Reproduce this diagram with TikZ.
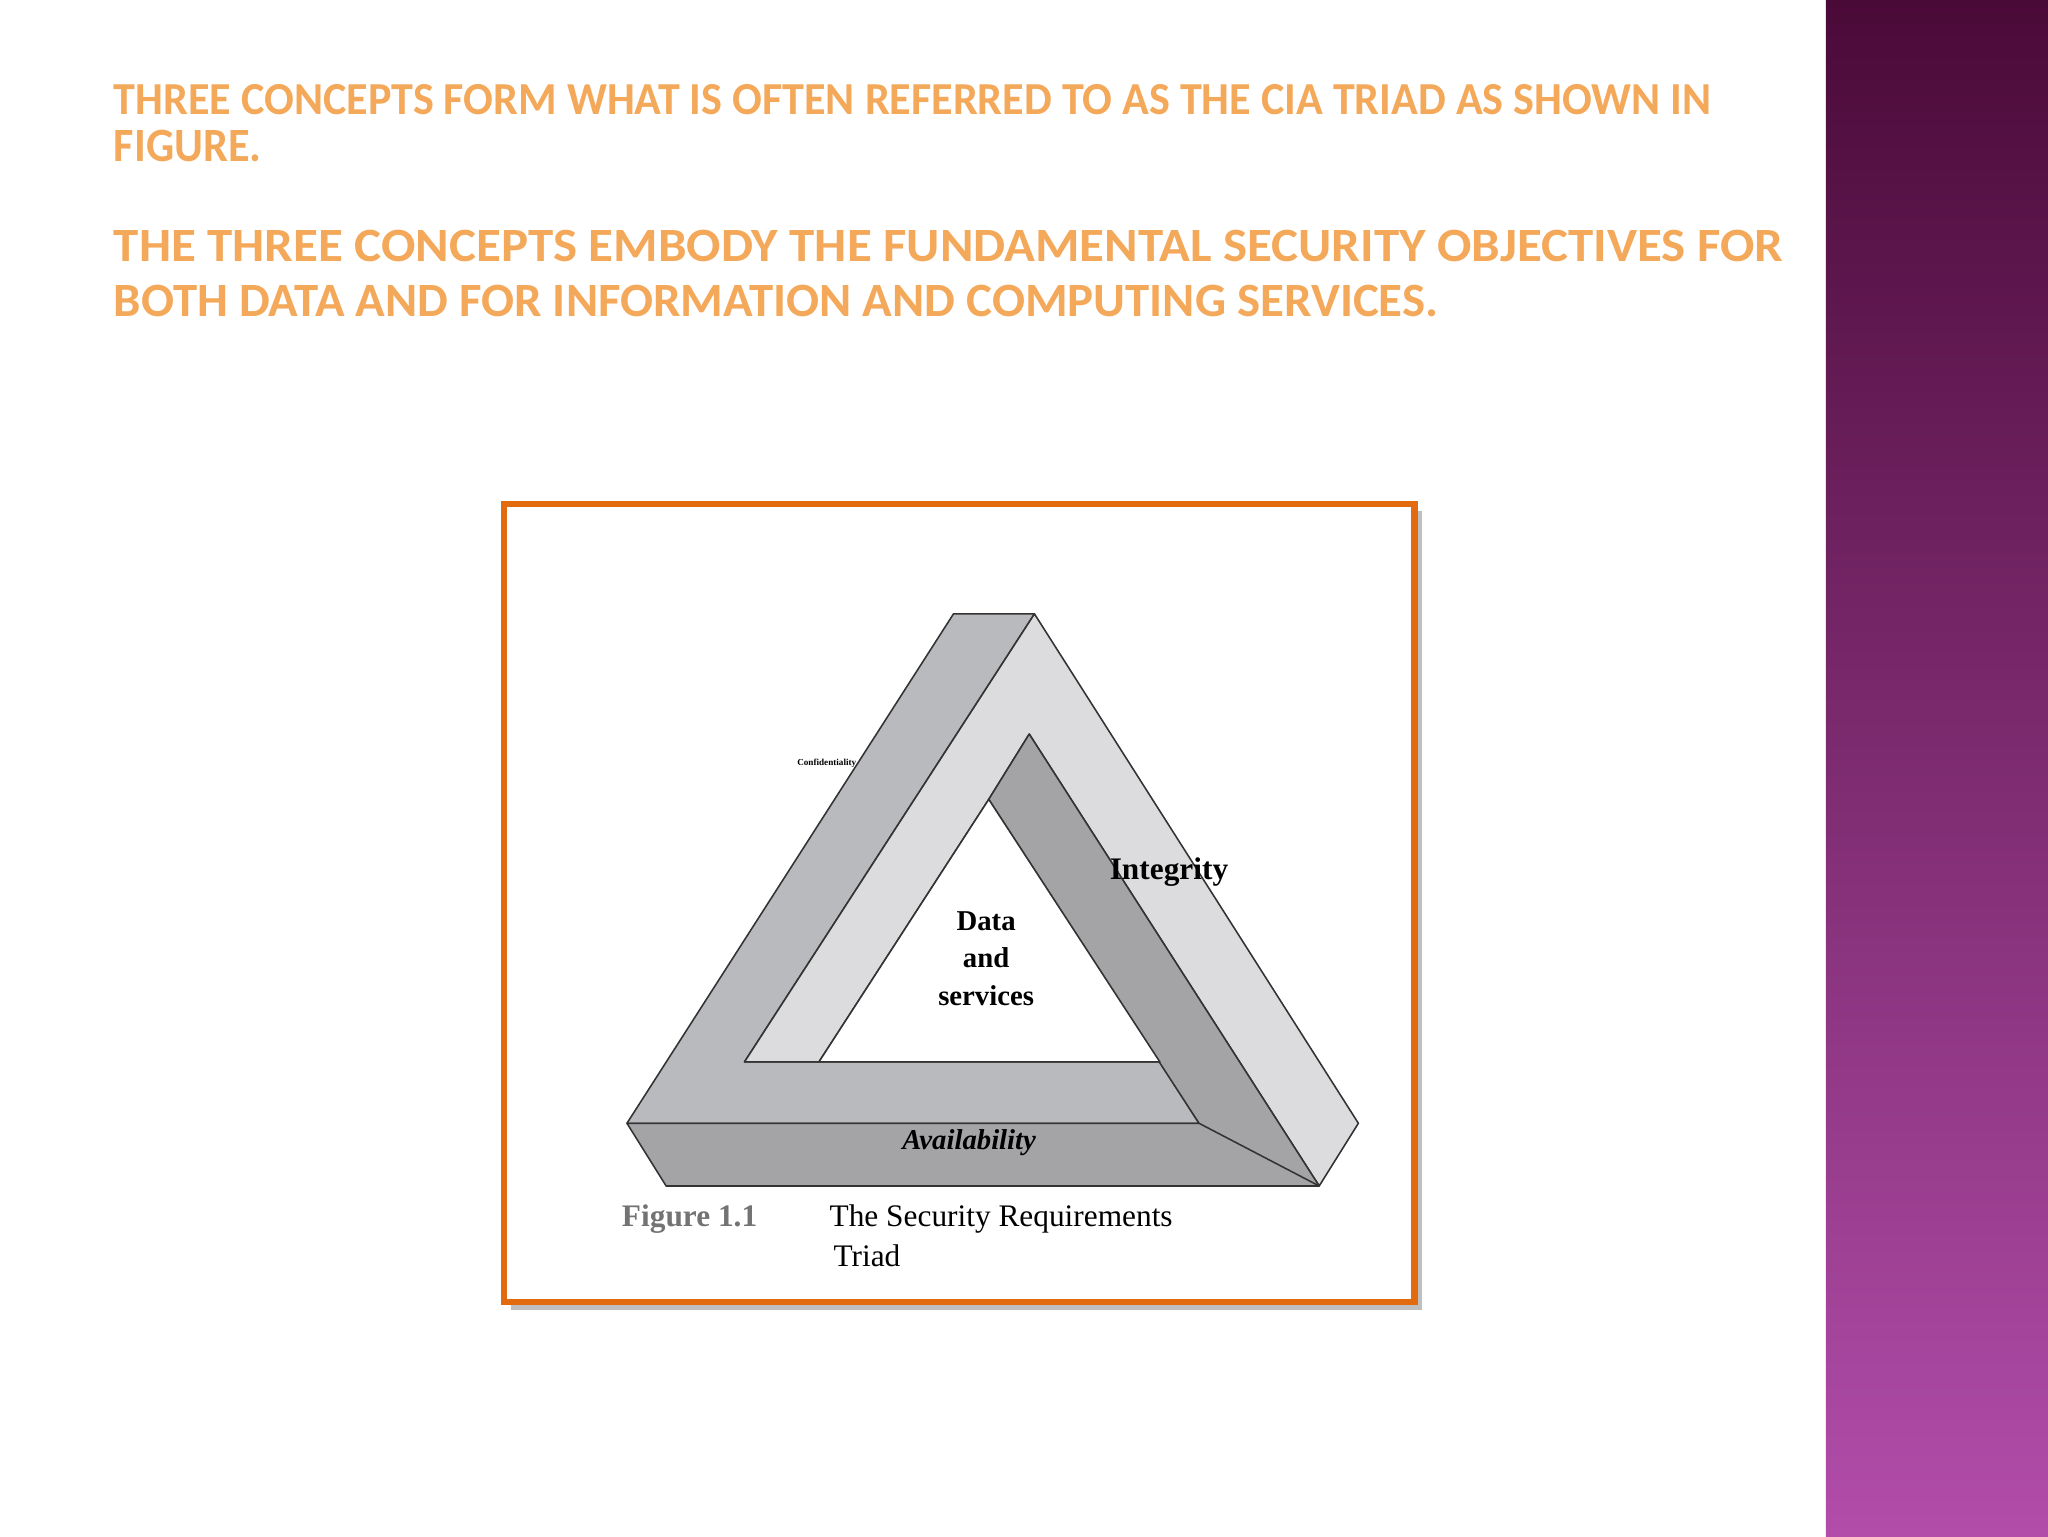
\documentclass[tikz,border=0pt]{standalone}
\usepackage{fontspec}
\usepackage{graphicx}
\setmainfont{Liberation Serif}
\newfontfamily\headfont{Carlito}
\definecolor{headc}{HTML}{F4A85A}
\definecolor{boxc}{HTML}{E26B10}
\definecolor{medg}{HTML}{B9BABD}
\definecolor{lightg}{HTML}{DCDCDE}
\definecolor{darkg}{HTML}{A4A4A7}
\definecolor{bandtop}{HTML}{4A0A38}
\definecolor{bandbot}{HTML}{B24DAA}
\begin{document}
\begin{tikzpicture}[x=1pt,y=-1pt,
  head/.style={anchor=south west,inner sep=0pt,text=headc,font=\headfont\bfseries},
  face/.style={draw=black!80,line width=1.2pt,line join=round},
  lab/.style={inner sep=0pt,font=\bfseries}]
\useasboundingbox (0,0) rectangle (1568,1176);
\fill[white] (0,0) rectangle (1568,1176);
\shade[top color=bandtop,bottom color=bandbot] (1398,0) rectangle (1568,1176);
% headings
\node[head] (h1) at (87,88) {\resizebox{1223pt}{23pt}{THREE CONCEPTS FORM WHAT IS OFTEN REFERRED TO AS THE CIA TRIAD AS SHOWN IN}};
\node[head] (h2) at (87,124) {\resizebox{113pt}{24pt}{FIGURE.}};
\node[head] (h3) at (87,201) {\resizebox{1278pt}{24pt}{THE THREE CONCEPTS EMBODY THE FUNDAMENTAL SECURITY OBJECTIVES FOR}};
\node[head] (h4) at (87,243) {\resizebox{1014pt}{24pt}{BOTH DATA AND FOR INFORMATION AND COMPUTING SERVICES.}};
% frame
\fill[black!25] (391,391) rectangle (1089,1003);
\draw[boxc,line width=5pt,fill=white] (386,386) rectangle (1083,997);
% triangle points
\coordinate (A) at (730,470); \coordinate (B) at (792,470);
\coordinate (C) at (1040,860); \coordinate (D) at (1010,908);
\coordinate (E) at (510,908); \coordinate (F) at (480,860);
\coordinate (G) at (918,860); \coordinate (H) at (570,813);
\coordinate (I) at (627,813); \coordinate (J) at (888,813);
\coordinate (K) at (757,612); \coordinate (L) at (788,562);
\draw[face,fill=medg] (A) -- (B) -- (H) -- (J) -- (G) -- (F) -- cycle;
\draw[face,fill=lightg] (B) -- (C) -- (D) -- (L) -- (K) -- (I) -- (H) -- cycle;
\draw[face,fill=darkg] (L) -- (D) -- (E) -- (F) -- (G) -- (K) -- cycle;
\draw[face,fill=white] (K) -- (I) -- (J) -- cycle;
\draw[face] (G) -- (D);
% labels
\node[lab,font=\bfseries\fontsize{7}{8}\selectfont] (conf) at (633,584) {Confidentiality};
\node[lab,font=\bfseries\fontsize{24}{26}\selectfont] (integ) at (895,668) {Integrity};
\node[lab,align=center,font=\bfseries\fontsize{22}{29}\selectfont] (data) at (755,734) {Data\\and\\services};
\node[lab,font=\bfseries\itshape\fontsize{22}{24}\selectfont] (avail) at (742,875) {Availability};
\node[inner sep=0pt,anchor=base west,text=black!55,font=\bfseries\fontsize{24}{26}\selectfont] (fig) at (476,939) {Figure 1.1};
\node[inner sep=0pt,anchor=base west,align=left,font=\fontsize{24}{31}\selectfont] (cap) at (635,939) {The Security Requirements};
\node[inner sep=0pt,anchor=base west,font=\fontsize{24}{26}\selectfont] (cap2) at (638,970) {Triad};
\end{tikzpicture}
\end{document}
